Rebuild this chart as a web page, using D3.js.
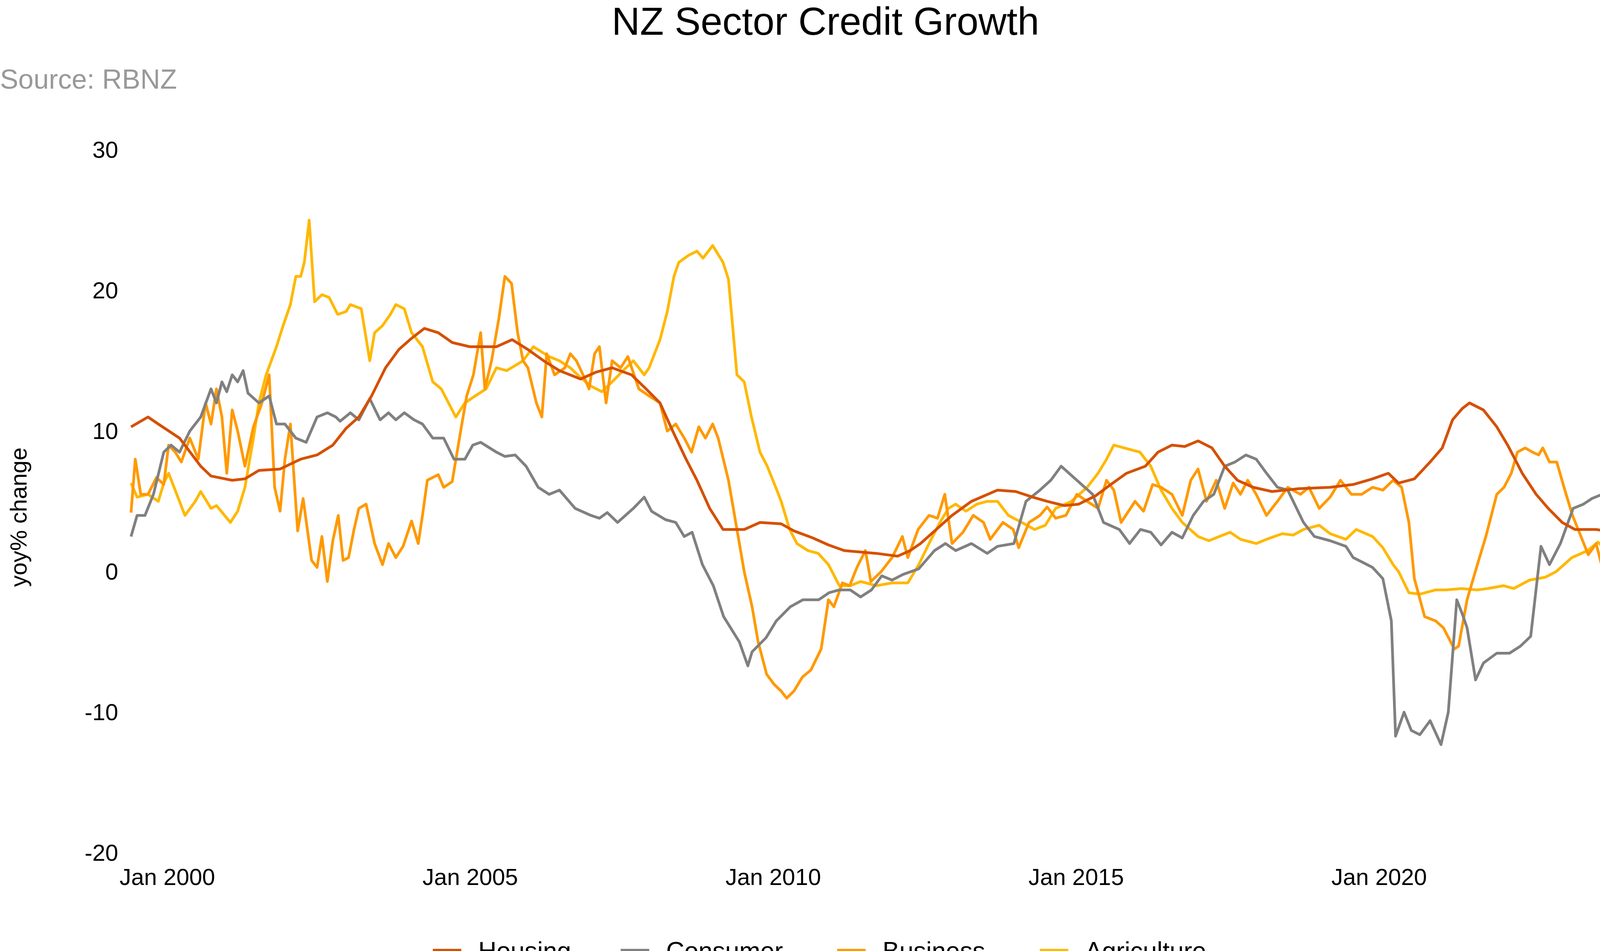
<!DOCTYPE html>
<html>
<head>
<meta charset="utf-8">
<script src="https://cdn.jsdelivr.net/npm/d3@7"></script>
<style>
  body { margin: 0; background: #fff; }
  text { font-family: "Liberation Sans", Arial, sans-serif; }
</style>
</head>
<body>
<svg id="chart" width="4167" height="2435" viewBox="0 0 1542 901"></svg>
<script>
// [decimal year, yoy % change]
var housing = [[1999.41,10.3],[1999.69,11.0],[1999.86,10.5],[2000.21,9.5],[2000.56,7.5],[2000.73,6.8],[2001.08,6.5],[2001.29,6.6],[2001.52,7.2],[2001.87,7.3],[2002.21,8.0],[2002.48,8.3],[2002.74,9.0],[2002.96,10.2],[2003.17,11.0],[2003.38,12.5],[2003.61,14.5],[2003.83,15.8],[2004.04,16.6],[2004.25,17.3],[2004.48,17.0],[2004.71,16.3],[2005.00,16.0],[2005.44,16.0],[2005.70,16.5],[2005.96,15.8],[2006.22,15.0],[2006.48,14.3],[2006.83,13.7],[2007.09,14.2],[2007.35,14.5],[2007.67,14.0],[2007.91,13.0],[2008.14,12.0],[2008.35,10.0],[2008.57,8.0],[2008.75,6.5],[2008.96,4.5],[2009.18,3.0],[2009.53,3.0],[2009.79,3.5],[2010.14,3.4],[2010.35,2.9],[2010.66,2.4],[2010.92,1.9],[2011.18,1.5],[2011.71,1.3],[2012.06,1.1],[2012.27,1.5],[2012.44,2.0],[2012.70,3.0],[2012.96,4.0],[2013.28,5.0],[2013.71,5.8],[2014.01,5.7],[2014.29,5.3],[2014.53,5.0],[2014.81,4.7],[2015.05,4.8],[2015.33,5.4],[2015.58,6.2],[2015.84,7.0],[2016.15,7.5],[2016.36,8.5],[2016.59,9.0],[2016.80,8.9],[2017.02,9.3],[2017.25,8.8],[2017.46,7.5],[2017.67,6.5],[2017.93,6.0],[2018.24,5.7],[2018.68,5.9],[2019.20,6.0],[2019.58,6.2],[2019.90,6.6],[2020.16,7.0],[2020.33,6.3],[2020.59,6.6],[2020.85,7.8],[2021.05,8.8],[2021.22,10.8],[2021.38,11.6],[2021.50,12.0],[2021.73,11.5],[2021.95,10.3],[2022.13,9.0],[2022.37,7.0],[2022.60,5.5],[2022.80,4.5],[2023.03,3.5],[2023.24,3.0],[2023.59,3.0],[2023.90,2.8],[2024.16,3.2],[2024.46,3.0]];

var consumer = [[1999.41,2.5],[1999.51,4.0],[1999.64,4.0],[1999.78,5.5],[1999.95,8.5],[2000.07,9.0],[2000.21,8.5],[2000.38,10],[2000.56,11],[2000.73,13],[2000.82,12],[2000.91,13.5],[2000.99,12.8],[2001.08,14],[2001.17,13.5],[2001.26,14.3],[2001.34,12.7],[2001.52,12],[2001.69,12.5],[2001.81,10.5],[2001.95,10.5],[2002.13,9.5],[2002.30,9.2],[2002.48,11],[2002.65,11.3],[2002.79,11],[2002.86,10.7],[2003.03,11.3],[2003.17,10.8],[2003.35,12.3],[2003.52,10.8],[2003.66,11.3],[2003.78,10.8],[2003.92,11.3],[2004.08,10.8],[2004.22,10.5],[2004.39,9.5],[2004.57,9.5],[2004.74,8],[2004.92,8],[2005.05,9.0],[2005.18,9.2],[2005.44,8.5],[2005.58,8.2],[2005.75,8.3],[2005.93,7.5],[2006.13,6],[2006.31,5.5],[2006.48,5.8],[2006.74,4.5],[2007.00,4.0],[2007.14,3.8],[2007.27,4.2],[2007.44,3.5],[2007.70,4.5],[2007.88,5.3],[2008.00,4.3],[2008.23,3.7],[2008.40,3.5],[2008.54,2.5],[2008.67,2.8],[2008.84,0.5],[2009.02,-1.0],[2009.19,-3.2],[2009.45,-5],[2009.59,-6.7],[2009.66,-5.7],[2009.89,-4.7],[2010.06,-3.5],[2010.29,-2.5],[2010.50,-2],[2010.76,-2],[2010.93,-1.5],[2011.10,-1.3],[2011.28,-1.3],[2011.45,-1.8],[2011.63,-1.3],[2011.80,-0.3],[2011.97,-0.6],[2012.15,-0.2],[2012.41,0.2],[2012.67,1.5],[2012.85,2.0],[2013.02,1.5],[2013.28,2.0],[2013.54,1.3],[2013.71,1.8],[2013.98,2.0],[2014.18,5],[2014.41,5.8],[2014.59,6.5],[2014.76,7.5],[2015.02,6.5],[2015.28,5.5],[2015.46,3.5],[2015.72,3.0],[2015.89,2.0],[2016.07,3.0],[2016.24,2.8],[2016.41,1.9],[2016.59,2.8],[2016.76,2.4],[2016.94,4],[2017.11,5],[2017.28,5.5],[2017.46,7.5],[2017.63,7.8],[2017.81,8.3],[2017.98,8.0],[2018.15,7],[2018.33,6],[2018.50,5.8],[2018.76,3.5],[2018.94,2.5],[2019.20,2.2],[2019.46,1.8],[2019.58,1],[2019.72,0.7],[2019.90,0.3],[2020.07,-0.5],[2020.21,-3.5],[2020.28,-11.7],[2020.42,-10],[2020.54,-11.3],[2020.68,-11.6],[2020.85,-10.6],[2021.03,-12.3],[2021.15,-10],[2021.29,-2],[2021.38,-3],[2021.46,-4],[2021.60,-7.7],[2021.73,-6.5],[2021.95,-5.8],[2022.16,-5.8],[2022.34,-5.3],[2022.51,-4.6],[2022.68,1.8],[2022.82,0.5],[2023.00,2],[2023.21,4.5],[2023.38,4.8],[2023.52,5.2],[2023.69,5.5],[2023.87,4.5],[2024.04,4.3],[2024.25,3.5],[2024.46,1.8]];

var business = [[1999.41,4.2],[1999.48,8.0],[1999.57,5.5],[1999.69,5.5],[1999.83,6.7],[1999.95,6.2],[2000.03,9.0],[2000.14,8.5],[2000.24,7.8],[2000.38,9.5],[2000.52,8.0],[2000.64,12],[2000.73,10.5],[2000.82,13.0],[2000.91,11],[2000.99,7],[2001.08,11.5],[2001.17,10],[2001.29,7.5],[2001.43,10.3],[2001.57,12.0],[2001.69,14.0],[2001.78,6],[2001.87,4.3],[2001.95,8],[2002.04,10.5],[2002.16,2.9],[2002.25,5.2],[2002.39,0.8],[2002.48,0.3],[2002.56,2.5],[2002.65,-0.7],[2002.74,2.2],[2002.83,4],[2002.91,0.8],[2003.00,1],[2003.09,3.0],[2003.17,4.5],[2003.29,4.8],[2003.43,2],[2003.56,0.5],[2003.66,2],[2003.78,1],[2003.90,1.8],[2004.04,3.6],[2004.15,2],[2004.22,4],[2004.30,6.5],[2004.48,6.9],[2004.57,6.0],[2004.71,6.4],[2004.85,10],[2004.95,12.5],[2005.06,14],[2005.18,17],[2005.25,13],[2005.36,15],[2005.48,18],[2005.58,21],[2005.69,20.5],[2005.79,17],[2005.88,15],[2005.96,14.5],[2006.10,12],[2006.19,11],[2006.27,15.5],[2006.40,14],[2006.57,14.5],[2006.66,15.5],[2006.76,15],[2006.87,14],[2006.97,13],[2007.06,15.5],[2007.14,16],[2007.25,12],[2007.35,15],[2007.49,14.5],[2007.61,15.3],[2007.79,13],[2007.96,12.5],[2008.14,12],[2008.26,10],[2008.40,10.5],[2008.54,9.5],[2008.66,8.5],[2008.78,10.3],[2008.89,9.5],[2009.01,10.5],[2009.10,9.5],[2009.27,6.5],[2009.41,3],[2009.53,0],[2009.66,-2.5],[2009.76,-5],[2009.90,-7.3],[2010.02,-8],[2010.14,-8.5],[2010.23,-9],[2010.35,-8.5],[2010.49,-7.5],[2010.63,-7],[2010.80,-5.5],[2010.92,-2],[2011.01,-2.5],[2011.15,-0.8],[2011.27,-1],[2011.39,0.3],[2011.53,1.5],[2011.62,-0.7],[2011.79,0],[2011.97,1],[2012.14,2.5],[2012.23,1],[2012.40,3],[2012.58,4],[2012.72,3.8],[2012.84,5.5],[2012.96,2],[2013.14,2.8],[2013.31,4],[2013.48,3.5],[2013.59,2.3],[2013.80,3.5],[2013.97,3],[2014.06,1.7],[2014.23,3.5],[2014.41,4.0],[2014.53,4.6],[2014.67,3.8],[2014.84,4],[2015.02,5.5],[2015.19,5],[2015.37,4.5],[2015.51,6.5],[2015.63,5.8],[2015.75,3.5],[2015.98,5],[2016.12,4.3],[2016.27,6.2],[2016.41,6],[2016.59,5.5],[2016.76,4],[2016.90,6.5],[2017.02,7.3],[2017.16,5],[2017.32,6.5],[2017.46,4.5],[2017.60,6.3],[2017.72,5.5],[2017.84,6.5],[2017.98,5.5],[2018.15,4],[2018.33,5],[2018.50,6],[2018.71,5.5],[2018.85,6],[2019.02,4.5],[2019.20,5.3],[2019.37,6.5],[2019.55,5.5],[2019.72,5.5],[2019.90,6],[2020.07,5.8],[2020.24,6.5],[2020.38,6],[2020.50,3.5],[2020.59,-0.5],[2020.76,-3.2],[2020.94,-3.5],[2021.07,-4],[2021.25,-5.5],[2021.32,-5.3],[2021.46,-2],[2021.63,0.5],[2021.77,2.5],[2021.95,5.5],[2022.07,6],[2022.19,7],[2022.29,8.5],[2022.42,8.8],[2022.54,8.5],[2022.64,8.3],[2022.71,8.8],[2022.82,7.8],[2022.94,7.8],[2023.06,6],[2023.20,4],[2023.34,2.5],[2023.46,1.2],[2023.59,2],[2023.69,0.3],[2023.81,0.8],[2023.93,1.5],[2024.04,2],[2024.11,1.3],[2024.25,2.8],[2024.46,1.5]];

var agriculture = [[1999.41,6.3],[1999.51,5.3],[1999.69,5.5],[1999.86,5],[1999.95,6.3],[2000.03,7],[2000.21,5],[2000.30,4],[2000.47,5],[2000.56,5.7],[2000.73,4.5],[2000.82,4.7],[2001.05,3.5],[2001.17,4.3],[2001.29,6],[2001.43,9.5],[2001.52,12],[2001.64,14],[2001.81,16],[2001.92,17.5],[2002.04,19],[2002.13,21],[2002.21,21],[2002.27,22],[2002.35,25],[2002.44,19.2],[2002.56,19.7],[2002.68,19.5],[2002.82,18.3],[2002.96,18.5],[2003.03,19],[2003.21,18.7],[2003.35,15],[2003.43,17],[2003.56,17.5],[2003.69,18.3],[2003.78,19],[2003.92,18.7],[2004.04,17],[2004.22,16],[2004.39,13.5],[2004.53,13],[2004.65,12],[2004.77,11],[2004.92,12],[2005.09,12.5],[2005.27,13],[2005.44,14.5],[2005.61,14.3],[2005.88,15],[2006.05,16],[2006.31,15.3],[2006.48,15],[2006.66,14.5],[2006.83,13.8],[2007.00,13.2],[2007.18,12.8],[2007.35,13.5],[2007.53,14.3],[2007.70,15],[2007.88,14],[2007.96,14.5],[2008.14,16.5],[2008.26,18.5],[2008.37,21],[2008.45,22],[2008.61,22.5],[2008.75,22.8],[2008.85,22.3],[2009.01,23.2],[2009.18,22],[2009.27,20.8],[2009.41,14],[2009.53,13.5],[2009.65,11],[2009.79,8.5],[2009.91,7.5],[2010.05,6],[2010.14,5],[2010.28,3],[2010.40,2],[2010.58,1.5],[2010.75,1.3],[2010.92,0.5],[2011.10,-1],[2011.28,-1],[2011.45,-0.7],[2011.71,-1],[2011.97,-0.8],[2012.23,-0.8],[2012.41,0.5],[2012.58,2],[2012.76,3.5],[2012.90,4.5],[2013.02,4.8],[2013.19,4.3],[2013.37,4.8],[2013.54,5],[2013.71,5],[2013.89,4],[2014.11,3.5],[2014.32,3],[2014.50,3.3],[2014.67,4.5],[2014.93,5],[2015.19,6],[2015.37,7],[2015.51,8],[2015.63,9],[2015.80,8.8],[2016.06,8.5],[2016.24,7.5],[2016.41,5.8],[2016.59,4.5],[2016.76,3.5],[2017.02,2.5],[2017.20,2.2],[2017.37,2.5],[2017.55,2.8],[2017.72,2.3],[2017.98,2.0],[2018.15,2.3],[2018.41,2.7],[2018.59,2.6],[2018.76,3],[2019.02,3.3],[2019.20,2.7],[2019.46,2.3],[2019.63,3],[2019.90,2.5],[2020.07,1.7],[2020.24,0.5],[2020.33,0],[2020.50,-1.5],[2020.68,-1.6],[2020.94,-1.3],[2021.11,-1.3],[2021.37,-1.2],[2021.63,-1.3],[2021.80,-1.2],[2022.06,-1.0],[2022.23,-1.2],[2022.49,-0.6],[2022.75,-0.4],[2022.93,0],[2023.19,1],[2023.45,1.5],[2023.62,2.1],[2023.88,1],[2024.14,0.7],[2024.46,0.5]];

var seriesNames = ["Housing", "Consumer", "Business", "Agriculture"];
var seriesColors = ["#D55000", "#808080", "#FF9900", "#FFB800"];
var yTicks = [-20, -10, 0, 10, 20, 30];
var xTicks = [2000, 2005, 2010, 2015, 2020];

var svg = d3.select("#chart");

var x = d3.scaleLinear().domain([2000, 2020]).range([158, 1306]);
var y = d3.scaleLinear().domain([-20, 30]).range([808, 142]);

svg.append("text")
	.attr("x", 782).attr("y", 33)
	.attr("text-anchor", "middle")
	.style("font-size", "37px")
	.text("NZ Sector Credit Growth");

svg.append("text")
	.attr("x", 0).attr("y", 84)
	.style("font-size", "26px")
	.style("fill", "#999")
	.text("Source: RBNZ");

var yAxis = svg.append("g")
	.attr("transform", "translate(112,0)")
	.call(d3.axisLeft(y).tickValues(yTicks).tickSize(0).tickPadding(0)
		.tickFormat(function(d){ return String(d); }));
yAxis.select(".domain").remove();
yAxis.selectAll("text").style("font-size", "22px").style("font-family", "Liberation Sans, Arial, sans-serif").attr("fill", "#000");

var xAxis = svg.append("g")
	.attr("transform", "translate(0,823)")
	.call(d3.axisBottom(x).tickValues(xTicks).tickSize(0).tickPadding(0)
		.tickFormat(function(d){ return "Jan " + d; }));
xAxis.select(".domain").remove();
xAxis.selectAll("text").style("font-size", "22px").style("font-family", "Liberation Sans, Arial, sans-serif").attr("fill", "#000");

svg.append("text")
	.attr("transform", "translate(25,490) rotate(-90)")
	.attr("text-anchor", "middle")
	.style("font-size", "22px")
	.text("yoy% change");

var line = d3.line()
	.x(function(d){ return x(d[0]); })
	.y(function(d){ return y(d[1]); });

var allSeries = [housing, consumer, business, agriculture];
// draw order: agriculture at back, housing on top
[3, 2, 1, 0].forEach(function(i){
	svg.append("path")
		.datum(allSeries[i])
		.attr("fill", "none")
		.attr("stroke", seriesColors[i])
		.attr("stroke-width", 2.6)
		.attr("stroke-linejoin", "round")
		.attr("d", line);
});

var legendX = [410, 588, 793, 985];
for (var i = 0; i < seriesNames.length; i++){
	var g = svg.append("g").attr("transform", "translate(" + legendX[i] + ",901)");
	g.append("line")
		.attr("x1", 0).attr("x2", 27).attr("y1", 0).attr("y2", 0)
		.attr("stroke", seriesColors[i]).attr("stroke-width", 4);
	g.append("text")
		.attr("x", 43).attr("y", 8)
		.style("font-size", "24px")
		.text(seriesNames[i]);
}
</script>
</body>
</html>
